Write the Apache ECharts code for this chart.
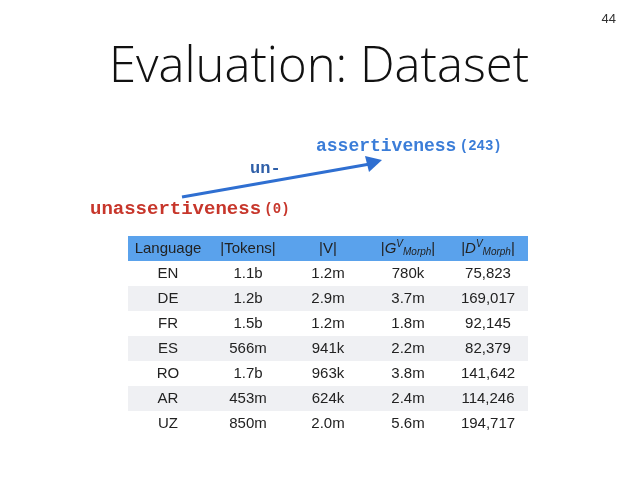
<!DOCTYPE html>
<html><head><meta charset="utf-8">
<script src="https://cdn.jsdelivr.net/npm/echarts@6/dist/echarts.min.js"></script>
<style>html,body{margin:0;padding:0;background:#fff}#c{width:638px;height:479px}</style>
</head><body><div id="c"></div>
<script>
var headers = ['Language', '|Tokens|', '|V|', 'G', 'D'];
var languages = ['EN', 'DE', 'FR', 'ES', 'RO', 'AR', 'UZ'];
var tokens = ['1.1b', '1.2b', '1.5b', '566m', '1.7b', '453m', '850m'];
var vocab = ['1.2m', '2.9m', '1.2m', '941k', '963k', '624k', '2.0m'];
var gMorph = ['780k', '3.7m', '1.8m', '2.2m', '3.8m', '2.4m', '5.6m'];
var dMorph = ['75,823', '169,017', '92,145', '82,379', '141,642', '114,246', '194,717'];

var columns = [languages, tokens, vocab, gMorph, dMorph];
var rows = ['h'].concat(languages.map(function(_, i){return 'r' + i;}));
var cells = [];
headers.forEach(function(h, c){ cells.push([c, 0, h]); });
for (var r = 0; r < languages.length; r++) {
  for (var c = 0; c < columns.length; c++) cells.push([c, r + 1, columns[c][r]]);
}
var rowData = rows.map(function(_, i){ return [0, i]; });

var chart = echarts.init(document.getElementById('c'));
var F = '"Liberation Sans", Arial, sans-serif';
var M = '"Liberation Mono", "DejaVu Sans Mono", monospace';
chart.setOption({
  animation: false,
  grid: {left: 128, top: 236, width: 400, height: 200},
  xAxis: {type: 'category', data: headers, show: false},
  yAxis: {type: 'category', data: rows, inverse: true, show: false},
  series: [{
    type: 'custom',
    data: rowData,
    renderItem: function(params, api){
      var i = api.value(1);
      var p = api.coord([0, i]);
      var h = api.size([1, 1])[1];
      var fill = i === 0 ? '#5aa2ec' : (i % 2 === 0 ? '#eff0f3' : '#ffffff');
      return {type: 'rect', shape: {x: params.coordSys.x, y: p[1] - h / 2, width: params.coordSys.width, height: h}, style: {fill: fill}};
    }
  }, {
    type: 'custom',
    data: cells,
    renderItem: function(params, api){
      var p = api.coord([api.value(0), api.value(1)]);
      var t = cells[params.dataIndex][2];
      var txt, rich = {
        i: {fontFamily: F, fontSize: 15, fontStyle: 'italic', color: '#111'},
        sup: {fontFamily: F, fontSize: 10, fontStyle: 'italic', color: '#111', verticalAlign: 'top', padding: [0,0,8,0]},
        sub: {fontFamily: F, fontSize: 10, fontStyle: 'italic', color: '#111', padding: [8,0,0,0]},
        n: {fontFamily: F, fontSize: 15, color: '#111'}
      };
      if (t === 'G' || t === 'D') txt = '{n||}{i|' + t + '}{sup|V}{sub|Morph}{n||}';
      else txt = '{n|' + t + '}';
      return {type: 'text', x: p[0], y: p[1], style: {text: txt, rich: rich, align: 'center', verticalAlign: 'middle', fontSize: 14, fontFamily: F, fill: '#222'}};
    }
  }],
  graphic: [
    {type: 'text', left: 'center', top: 44, style: {text: 'Evaluation: Dataset', font: '300 49px "Open Sans", sans-serif', fill: '#111'}},
    {type: 'text', right: 22, top: 13, style: {text: '44', font: '13px ' + F, fill: '#333'}},
    {type: 'text', left: 316, top: 137, style: {text: '{a|assertiveness} {b|(243)}', rich: {a: {font: 'bold 18px ' + M, fill: '#3b7dd8'}, b: {font: 'bold 14px ' + M, fill: '#3b7dd8'}}}},
    {type: 'text', left: 250, top: 160, style: {text: 'un-', font: 'bold 17px ' + M, fill: '#2f5fa8'}},
    {type: 'text', left: 90, top: 200, style: {text: '{a|unassertiveness} {b|(0)}', rich: {a: {font: 'bold 19px ' + M, fill: '#c7362b'}, b: {font: 'bold 14px ' + M, fill: '#c7362b'}}}},
    {type: 'line', shape: {x1: 182, y1: 197, x2: 370, y2: 164}, style: {stroke: '#2f6fd1', lineWidth: 3}},
    {type: 'polygon', shape: {points: [[382, 160], [365, 156], [369, 172]]}, style: {fill: '#2f6fd1'}}
  ]
});
</script></body></html>
